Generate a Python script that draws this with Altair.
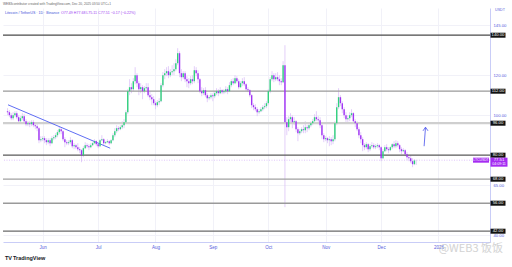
import altair as alt
import pandas as pd

# ---------------- data (LTC/USDT daily) ----------------
first_open = 102.0

close_may = [101.5, 100, 98.5, 100, 101, 99, 97, 98.5, 99.5, 97, 95.5, 96, 95.5, 96.5, 95, 94.5, 93.5, 87.5, 88]
high_may = [103.5, 102.5, 101, 101.5, 102, 102, 100, 99.5, 101, 100.5, 98, 97, 97, 97.5, 97.5, 96, 96, 94, 89.5]
low_may = [100, 99, 97.5, 97.5, 99, 98, 96, 96, 97.5, 96, 94.5, 94.5, 94, 94.5, 94, 93, 92, 86, 86.5]

close_jun = [88.5, 87.5, 86.5, 87.5, 86, 88.5, 89, 90, 91.5, 93, 92, 88, 86.5, 86, 86.5, 87.5, 84.5, 85, 84, 83,
             82.5, 80, 83.5, 85, 84.5, 84, 85, 86, 87, 85.5]
high_jun = [89.5, 89.5, 88.5, 88.5, 88.5, 89.5, 90, 91, 92.5, 94.5, 94, 92.5, 89, 87.5, 87.5, 89, 88, 86, 85.5, 86,
            84, 83, 84.5, 86.5, 86, 85.5, 86, 86.5, 88, 87.5]
low_jun = [87, 86, 85, 85.5, 84.5, 85.5, 87.5, 88, 89, 90.5, 90.5, 87, 84, 85, 85, 85.5, 83.5, 83, 83, 82,
           81, 76.5, 79, 83, 83.5, 82.5, 83.5, 84.5, 85.5, 84.5]

close_jul = [84.5, 87.5, 88, 86, 86.5, 87, 86, 87.5, 90, 92, 93.5, 93, 94, 95, 96.5, 101.5, 112, 114, 113, 117,
             120, 116, 113, 114, 112, 113.5, 114, 110, 109, 108, 106]
high_jul = [86, 88, 90, 88.5, 87, 88, 87.5, 88, 91, 93.5, 95, 94.5, 95, 97, 98, 102.5, 113, 118, 116, 118.5,
            124, 121, 117, 116, 115, 114.5, 116, 116, 112, 110.5, 109.5]
low_jul = [83.5, 84, 87, 85, 85.5, 86, 85, 85.5, 87, 89, 91, 92, 92.5, 93, 93.5, 96, 100.5, 110, 111, 112,
           115.5, 114, 110, 111, 108, 111, 112.5, 109, 107.5, 105, 105]

close_aug = [105, 106.5, 107, 115, 120, 121, 122, 120, 121.5, 122, 123, 126, 131, 121, 119, 121, 118, 117, 116, 118,
             117, 122.5, 121, 118, 112, 111, 112.5, 110, 108.5, 109, 110]
high_aug = [107, 107.5, 108.5, 116, 121.5, 123, 124, 124.5, 123, 125, 126, 128, 133.5, 132, 123, 122, 122, 119.5, 118.5, 119.5,
            120, 124.5, 124, 122.5, 118.5, 114, 113.5, 114, 111, 110, 111]
low_aug = [103, 104, 105, 106.5, 114, 118, 119.5, 118.5, 119, 120, 120, 122, 125, 119, 117, 118, 116.5, 114, 113.5, 115,
           115.5, 116, 119.5, 116, 111, 109.5, 110, 109, 106.5, 107.5, 108]

close_sep = [109.5, 111, 112, 111, 112.5, 111.5, 112, 113, 112, 115, 117, 116, 118.5, 117, 114, 116, 117, 115.5, 113, 112.5,
             110, 105, 104, 103, 101.5, 102, 103, 104, 104.5, 106]
high_sep = [111, 112, 113.5, 113, 114, 113, 113, 114.5, 114, 116.5, 118, 118.5, 120, 119.5, 118, 117, 118.5, 119, 116, 114,
            113, 110.5, 106, 105.5, 104, 103, 104, 105, 106, 107]
low_sep = [107, 108.5, 110, 109.5, 110.5, 110.5, 110.5, 111, 110.5, 111.5, 114, 115, 115.5, 116, 113, 113.5, 114.5, 114.5, 112, 111.5,
           109, 103.5, 102.5, 102, 99.5, 100.5, 101.5, 102, 103, 103.5]

close_oct = [112, 118, 120, 118, 119, 118, 117, 116.5, 125, 96.5, 94, 98, 99, 96.5, 97, 93, 91, 92, 93, 92.5,
             94, 93.5, 95, 96, 97, 99, 98, 97.5, 95, 90, 88]
high_oct = [113, 119, 122, 121, 121, 121.5, 120, 118.5, 127, 135, 99, 99.5, 101, 100, 99, 97.5, 94, 93, 94, 95,
            97, 95, 96, 97, 98, 100.5, 102, 99.5, 99, 95.5, 91]
low_oct = [105, 111, 117, 116.5, 117, 117, 115, 115, 116, 54, 90, 92, 96, 93.5, 95, 91.5, 87, 90, 91, 91,
           91, 91.5, 92.5, 94, 95, 96, 97, 95.5, 93.5, 88, 86.5]

close_nov = [88.5, 87.5, 88, 87, 88, 96, 104, 109, 106, 103, 100, 98, 98.5, 100, 101, 97, 96, 93, 90, 88,
             85, 84, 85.5, 83, 84.5, 85, 84, 84.5, 85, 84]
high_nov = [89.5, 89, 89.5, 89, 90, 97, 106, 113.5, 110, 107, 104, 101.5, 100, 101.5, 103, 101.5, 98, 97, 94, 91.5,
            89, 86, 86.5, 86, 85.5, 86.5, 86, 85.5, 86, 85.5]
low_nov = [87, 86, 84.5, 85, 85.5, 87, 95, 103, 104.5, 101, 98.5, 96.5, 96.5, 97, 99, 96, 94, 92, 88.5, 86,
           82, 82.5, 83, 81.5, 82, 83.5, 83, 83, 83.5, 82.5]

close_dec = [78.5, 82, 84, 83, 82.5, 84, 85.5, 84.5, 86, 85, 83, 82, 82.5, 80.5, 79, 78.5, 77, 75.5, 77.49, 77.51]
high_dec = [84.5, 83, 85, 85.5, 84, 84.5, 86, 87, 87.5, 87, 85.5, 84, 83.5, 83, 81.5, 80, 80, 78.5, 78, 77.68]
low_dec = [77, 78, 81.5, 82, 81, 82, 83, 83.5, 83.5, 84, 81.5, 80.5, 81.5, 79.5, 77.5, 77, 76, 74, 75, 75.11]

levels = [140, 112, 96, 80, 68, 56, 42]
level_colors = ["#4a4a4a", "#9a9a9a", "#cfcfcf", "#5a5a5a", "#a0a0a0", "#9a9a9a", "#6a6a6a"]
level_widths = [1.2, 1.3, 2.2, 1.3, 1.2, 1.5, 1.3]

trend_dates = ["2025-05-13T06:00:00", "2025-07-07T12:00:00"]
trend_values = [105.2, 83.5]

arrow_dates = ["2025-12-24T06:00:00", "2025-12-25T00:00:00", "2025-12-23T16:00:00", "2025-12-25T00:00:00", "2025-12-26T08:00:00"]
arrow_values = [84.5, 94.0, 92.2, 94.0, 92.2]
arrow_parts = ["shaft", "shaft", "head", "head", "head"]

last_price = 77.51
# price-scale labels every 5, minus those hidden under the highlighted boxes
y_ticks = [40, 45, 50, 60, 65, 70, 85, 90, 100, 105, 110, 115, 120, 125, 130, 135, 145, 150]
month_ticks = [(2025, 6), (2025, 7), (2025, 8), (2025, 9), (2025, 10), (2025, 11), (2025, 12), (2026, 1)]

# ---------------- table ----------------
closes = close_may + close_jun + close_jul + close_aug + close_sep + close_oct + close_nov + close_dec
highs = high_may + high_jun + high_jul + high_aug + high_sep + high_oct + high_nov + high_dec
lows = low_may + low_jun + low_jul + low_aug + low_sep + low_oct + low_nov + low_dec
opens = [first_open] + closes[:-1]
dates = pd.date_range("2025-05-13", periods=len(closes), freq="D").strftime("%Y-%m-%dT00:00:00")
df = pd.DataFrame({"date": dates, "open": opens, "high": highs, "low": lows, "close": closes})
df["dir"] = ["up" if c >= o else "down" for o, c in zip(df["open"], df["close"])]

GREEN = "#2fd27c"
PURPLE = "#a033f4"
WICK = "#dcc3f7"
BLUE_TXT = "#555bdc"
FONT = "Liberation Sans"

xscale = alt.Scale(domain=[alt.DateTime(year=2025, month=5, date=13, hours=6),
                           alt.DateTime(year=2026, month=1, date=26, hours=4)])
yscale = alt.Scale(domain=[36.6, 153.6], nice=False, zero=False)

xaxis = alt.Axis(values=[alt.DateTime(year=y, month=m, date=1) for y, m in month_ticks],
                 labelExpr="month(datum.value) == 0 ? timeFormat(datum.value, '%Y') : timeFormat(datum.value, '%b')",
                 labelFontSize=4.5, labelColor=BLUE_TXT, labelFont=FONT, ticks=False, labelPadding=2,
                 domainColor="#c9cdf7", domainWidth=1, grid=True, gridColor="#f1f1f8", title=None)
yaxis = alt.Axis(orient="right", values=y_ticks, format=".2f", labelFontSize=4.2, labelColor=BLUE_TXT,
                 labelFont=FONT, ticks=False, labelPadding=3, domainColor="#c9cdf7", domainWidth=1,
                 grid=True, gridColor="#f1f1f8", labelOverlap=False, title=None)

base = alt.Chart(df)
X = alt.X("date:T", scale=xscale, axis=xaxis)

wicks = base.mark_rule(color=WICK, strokeWidth=0.8).encode(
    x=X, y=alt.Y("low:Q", scale=yscale, axis=yaxis), y2="high:Q")
bodies = base.mark_bar(size=1.4).encode(
    x="date:T", y="open:Q", y2="close:Q",
    color=alt.Color("dir:N", scale=alt.Scale(domain=["up", "down"], range=[GREEN, PURPLE]), legend=None))

lv = pd.DataFrame({"v": levels, "col": level_colors, "w": level_widths,
                   "lab": [f"{v:.2f}" for v in levels]})
level_rules = alt.Chart(lv).mark_rule().encode(
    y="v:Q", color=alt.Color("col:N", scale=None), strokeWidth=alt.StrokeWidth("w:Q", scale=None))
level_boxes = alt.Chart(lv).mark_tick(orient="horizontal", size=15, thickness=5, color="#111111", opacity=1).encode(
    x=alt.value(495), y="v:Q")
level_text = alt.Chart(lv).mark_text(fontSize=4.2, font=FONT, color="white", align="center", baseline="middle").encode(
    x=alt.value(495), y="v:Q", text="lab:N")

tr = pd.DataFrame({"date": trend_dates, "v": trend_values})
trend = alt.Chart(tr).mark_line(color="#4d5cf2", strokeWidth=0.9).encode(x="date:T", y="v:Q")

ar = pd.DataFrame({"date": arrow_dates, "v": arrow_values, "part": arrow_parts})
arrow = alt.Chart(ar).mark_line(color="#5a63ee", strokeWidth=0.9).encode(x="date:T", y="v:Q", detail="part:N")

lp = pd.DataFrame({"v": [last_price], "p": [f"{last_price:.2f}"], "cd": ["04:09:11"], "sym": ["LTCUSDT"]})
price_line = alt.Chart(lp).mark_rule(color="#c79cf7", strokeWidth=0.6, strokeDash=[1, 1.5]).encode(y="v:Q")
price_box = alt.Chart(lp).mark_tick(orient="horizontal", size=17, thickness=9, color="#a52cf2", opacity=1, yOffset=2).encode(
    x=alt.value(496), y="v:Q")
price_txt = alt.Chart(lp).mark_text(fontSize=4.2, font=FONT, color="white", align="center", baseline="middle").encode(
    x=alt.value(496), y="v:Q", text="p:N")
cd_txt = alt.Chart(lp).mark_text(fontSize=3.6, font=FONT, color="white", align="center", baseline="middle", dy=4).encode(
    x=alt.value(496), y="v:Q", text="cd:N")
sym_box = alt.Chart(lp).mark_tick(orient="horizontal", size=16, thickness=5, color="#a52cf2", opacity=1).encode(
    x=alt.value(478), y="v:Q")
sym_txt = alt.Chart(lp).mark_text(fontSize=3.4, font=FONT, color="white", align="center", baseline="middle").encode(
    x=alt.value(478), y="v:Q", text="sym:N")


def label(text, x, y, size, color, weight="normal", font=FONT, align="left", opacity=1.0):
    return alt.Chart(pd.DataFrame({"t": [text]})).mark_text(
        fontSize=size, font=font, color=color, fontWeight=weight, align=align, baseline="middle", opacity=opacity
    ).encode(x=alt.value(x), y=alt.value(y), text="t:N")


hdr1 = label("WEB3contributor created with TradingView.com, Dec 20, 2025 03:50 UTC+1", 0, -4, 3.2, "#666666")
hdr2a = label("Litecoin / TetherUS · 1D · Binance", 2, 5, 3.6, "#3f51d8")
hdr2b = label("O77.49 H77.68 L75.11 C77.51 −0.17 (−0.22%)", 58, 5, 3.6, "#9b3cf0")
usdt = label("USDT", 497, 2, 3.6, BLUE_TXT, align="center")
tv_logo = label("TV", 2, 250, 5.5, "#131722", weight="bold")
tv_name = label("TradingView", 10, 250, 5.5, "#131722", weight="bold")
wm = label("@WEB3 饭饭", 500, 241, 11, "#c8c8c8", font="Noto Sans CJK SC", align="right", opacity=0.8)

chart = alt.layer(
    wicks, level_rules, trend, bodies, price_line, arrow,
    level_boxes, level_text, price_box, price_txt, cd_txt, sym_box, sym_txt,
    hdr1, hdr2a, hdr2b, usdt, tv_logo, tv_name, wm
).properties(
    width=487, height=234,
    autosize=alt.AutoSizeParams(type="none"),
    padding={"left": 3, "top": 8, "right": 22, "bottom": 25},
    background="white",
).configure_view(stroke=None)

chart.save("out.html", embed_options={"renderer": "svg", "actions": False})
